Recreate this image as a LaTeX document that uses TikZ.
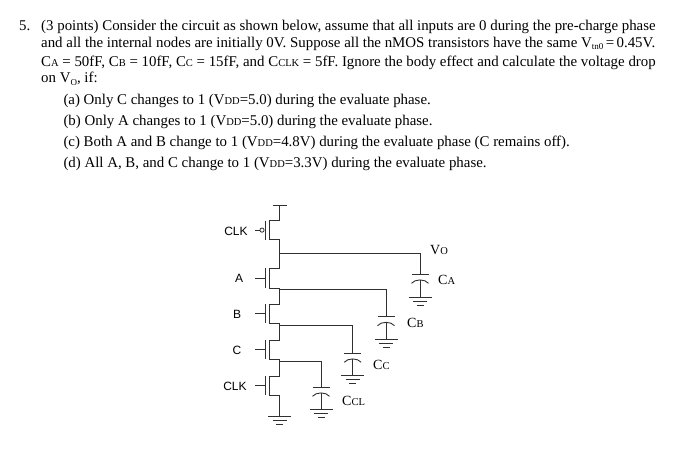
\documentclass[tikz,border=0pt]{standalone}
\usepackage{fontspec}
\setmainfont{Liberation Serif}
\newfontfamily\labfont{Liberation Sans}
\definecolor{wirecol}{HTML}{303030}
\newcommand{\sml}[1]{{\fontsize{10.5}{12}\selectfont #1}}
\newcommand{\lowr}[1]{\raisebox{-2.5pt}{\fontsize{9}{10}\selectfont #1}}
\tikzset{
  wire/.style={draw=wirecol,line width=0.9pt},
  txt/.style={anchor=base west,inner sep=0pt,font=\fontsize{14.88}{16}\selectfont},
  lab/.style={anchor=center,inner sep=0pt,font=\labfont\fontsize{12}{13}\selectfont},
  caplab/.style={anchor=base west,inner sep=0pt,font=\fontsize{14}{16}\selectfont},
}
% #1 name, #2 x of the stem, #3 top of channel, #4 bottom of channel
\newcommand{\mosfet}[4]{%
  \coordinate (#1d) at (#2,#3);
  \coordinate (#1s) at (#2,#4);
  \draw[wire] (#1d) -- ++(-10.2,0) -- ($(#1s)+(-10.2,0)$) -- (#1s);
  \draw[wire] ($(#1d)+(-14.5,0)$) -- ($(#1s)+(-14.5,0)$);
  \coordinate (#1g) at ($(#1d)!0.5!(#1s)+(-14.5,0)$);
}
% #1 name, #2 x, #3 plate y, #4 ground y
\newcommand{\loadcap}[4]{%
  \coordinate (#1p) at (#2,#3);
  \coordinate (#1g) at (#2,#4);
  \draw[wire] ($(#1p)+(-8.5,0)$) -- ($(#1p)+(8.5,0)$);
  \draw[wire] ($(#1p)+(-8.5,9)$) .. controls ($(#1p)+(-5,4.5)$) and ($(#1p)+(5,4.5)$) .. ($(#1p)+(8.5,9)$);
  \draw[wire] ($(#1p)+(0,5.8)$) -- (#1g);
  \draw[wire] ($(#1g)+(-11.5,0)$) -- ($(#1g)+(11.5,0)$);
  \draw[wire] ($(#1g)+(-7,3.7)$) -- ($(#1g)+(7,3.7)$);
  \draw[wire] ($(#1g)+(-3.5,7.7)$) -- ($(#1g)+(3.5,7.7)$);
}
\usetikzlibrary{calc}
\begin{document}
\begin{tikzpicture}[x=1pt,y=-1pt]
\useasboundingbox (0,0) rectangle (682,458);
\fill[white] (0,0) rectangle (682,458);
% question text
\node[txt] (t0) at (19,30) {5.};
\node[txt] (t1) at (41,30) {(3 points) Consider the circuit as shown below, assume that all inputs are 0 during the pre-charge phase};
\node[txt] (t2) at (41,47.3) {and all the internal nodes are initially 0V. Suppose all the nMOS transistors have the same V\lowr{tn0}\,=\,0.45V.};
\node[txt] (t3) at (41,66) {C\sml{A} = 50fF, C\sml{B} = 10fF, C\sml{C} = 15fF, and C\sml{CLK} = 5fF. Ignore the body effect and calculate the voltage drop};
\node[txt] (t4) at (41,82.7) {on V\lowr{O}, if:};
\node[txt] (t5) at (63.3,104.3) {(a) Only C changes to 1 (V\sml{DD}=5.0) during the evaluate phase.};
\node[txt] (t6) at (63.3,125.7) {(b) Only A changes to 1 (V\sml{DD}=5.0) during the evaluate phase.};
\node[txt] (t7) at (63.3,146.7) {(c) Both A and B change to 1 (V\sml{DD}=4.8V) during the evaluate phase (C remains off).};
\node[txt] (t8) at (63.3,167.7) {(d) All A, B, and C change to 1 (V\sml{DD}=3.3V) during the evaluate phase.};
% transistors
\mosfet{mp}{279.5}{220.7}{239.5}
\mosfet{ma}{279.5}{268.3}{288.3}
\mosfet{mb}{279.5}{304.3}{323.3}
\mosfet{mc}{279.5}{340}{359.3}
\mosfet{mk}{279.5}{376}{395.3}
% supply and ground of the stack
\coordinate (vdd) at (279.5,205.7);
\draw[wire] ($(vdd)+(-7,0)$) -- ($(vdd)+(7,0)$);
\draw[wire] (vdd) -- (mpd);
\coordinate (gnd) at (279.5,416.7);
\draw[wire] (mks) -- (gnd);
\draw[wire] ($(gnd)+(-11.5,0)$) -- ($(gnd)+(11.5,0)$);
\draw[wire] ($(gnd)+(-7,4)$) -- ($(gnd)+(7,4)$);
\draw[wire] ($(gnd)+(-3.5,8)$) -- ($(gnd)+(3.5,8)$);
\draw[wire] (mps) -- (mad);
\draw[wire] (mas) -- (mbd);
\draw[wire] (mbs) -- (mcd);
\draw[wire] (mcs) -- (mkd);
% gate leads
\node[lab] (lclkp) at (236,231) {CLK};
\node[lab] (la) at (239,278) {A};
\node[lab] (lb) at (237,314) {B};
\node[lab] (lc) at (237,350) {C};
\node[lab] (lclkn) at (235,386) {CLK};
\draw[wire,line width=0.8pt] (mpg)++(-3,0) circle (2.1);
\draw[wire] ($(mpg)+(-10,0)$) -- ($(mpg)+(-5.1,0)$);
\draw[wire] ($(mag)+(-10,0)$) -- (mag);
\draw[wire] ($(mbg)+(-10,0)$) -- (mbg);
\draw[wire] ($(mcg)+(-10,0)$) -- (mcg);
\draw[wire] ($(mkg)+(-10,0)$) -- (mkg);
% capacitors
\loadcap{ca}{420}{274.3}{297.3}
\loadcap{cb}{386}{316.7}{339.3}
\loadcap{cc}{352.7}{353.3}{375.7}
\loadcap{ck}{321}{387.3}{409.3}
\draw[wire] (279.5,253.3) -- (420,253.3) -- (cap);
\draw[wire] (279.5,289.3) -- (386,289.3) -- (cbp);
\draw[wire] (279.5,325.7) -- (352.7,325.7) -- (ccp);
\draw[wire] (279.5,361.7) -- (321,361.7) -- (ckp);
% capacitor labels
\node[caplab] (vo) at (430,254) {V\sml{O}};
\node[caplab] (lca) at (438,284.5) {C\sml{A}};
\node[caplab] (lcb) at (407,327) {C\sml{B}};
\node[caplab] (lcc) at (373,369) {C\sml{C}};
\node[caplab] (lck) at (342,405) {C\sml{CL}};
\end{tikzpicture}
\end{document}
